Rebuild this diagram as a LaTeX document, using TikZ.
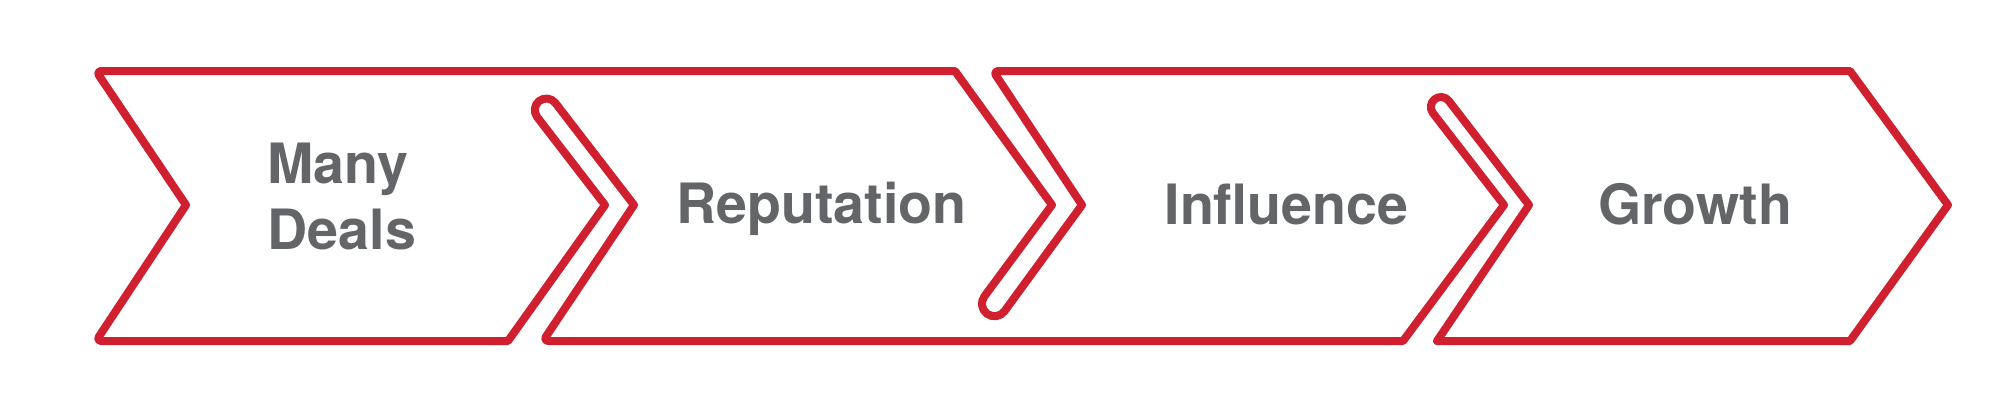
\documentclass[tikz,border=0pt]{standalone}
\usepackage{fontspec}
\setmainfont{TeX Gyre Heros}
\definecolor{chevred}{RGB}{208,32,48}
\definecolor{labelgray}{RGB}{99,101,105}
\begin{document}
\begin{tikzpicture}[x=0.01cm,y=0.01cm,
  outline/.style={draw=chevred,line width=0.08cm,line join=round},
  lbl/.style={text=labelgray,font=\fontsize{15.8}{18.5}\selectfont\bfseries,inner sep=0pt}]
\useasboundingbox (0,0) rectangle (2000,417);
\draw[outline]
  (186,212) [rounded corners=1.6pt] -- (96,346) [sharp corners]
  -- (955,346) -- (1052,212) -- (984.4,120.7)
  arc[start angle=143.5,end angle=323.5,radius=0.125cm]
  -- (1082,212) [rounded corners=1.6pt] -- (993,346) [sharp corners]
  -- (1850,346) -- (1948,212) -- (1850,76)
  -- (1437,76) -- (1529,212) -- (1448.8,316.1)
  arc[start angle=37.6,end angle=217.6,radius=0.10cm]
  -- (1504,212) -- (1403,76) [rounded corners=1.6pt] -- (543,76) [sharp corners]
  -- (634,212) -- (555.4,314)
  arc[start angle=37.6,end angle=217.6,radius=0.115cm]
  -- (605,212) -- (508,76) [rounded corners=1.6pt] -- (96,76) [sharp corners] -- cycle;
\node[lbl,anchor=west,align=left] (deals) at (267,220.5) {Many\\Deals};
\node[lbl,anchor=base] (reputation) at (821.5,194) {Reputation};
\node[lbl,anchor=base] (influence) at (1286.5,193) {Influence};
\node[lbl,anchor=base] (growth) at (1695,193) {Growth};
\end{tikzpicture}
\end{document}
